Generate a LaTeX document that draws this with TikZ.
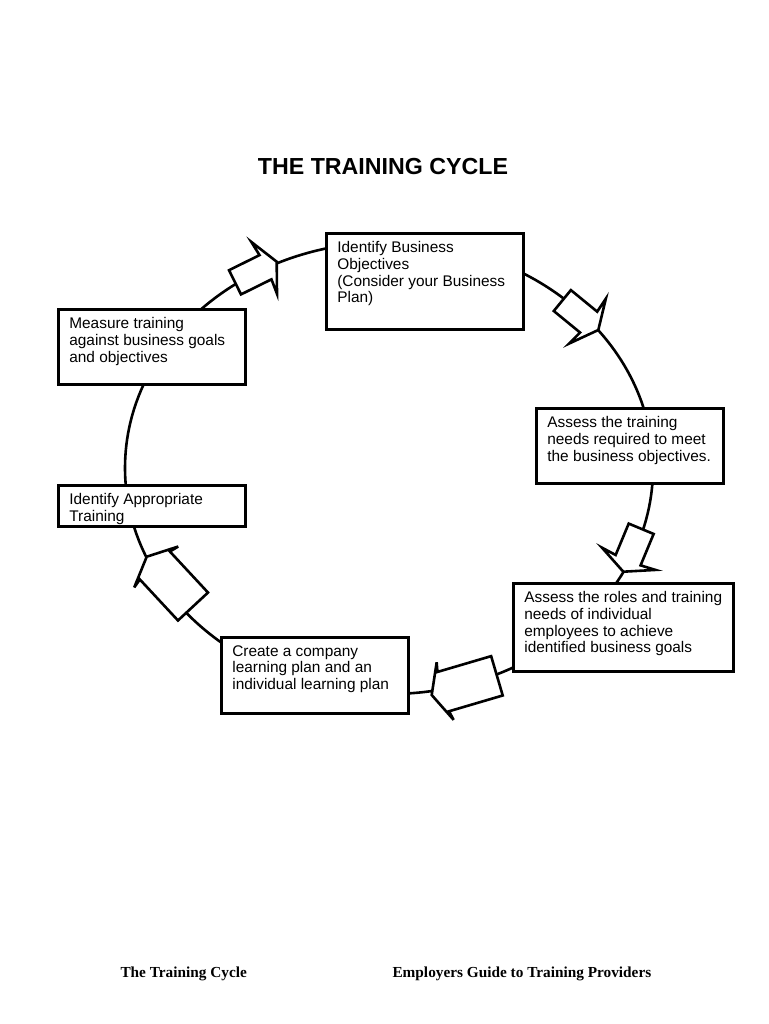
\documentclass[tikz,border=0pt]{standalone}
\usepackage{fontspec}
\setmainfont{Liberation Sans}
\newfontfamily\footfont{Liberation Serif}
\usetikzlibrary{positioning}

% text block set at the top of a fixed-size box
\newcommand{\boxtext}[3]{\parbox[t][#2pt][t]{#1pt}{\raggedright #3}}

\tikzset{
  cycleline/.style={line width=2.6pt},
  cyclebox/.style={draw,line width=2.7pt,fill=white,anchor=north west,
                   inner xsep=11pt,inner ysep=8pt,
                   font=\fontsize{15.4}{16.8}\selectfont},
  arrowshape/.style={draw,line width=2.6pt,fill=white,miter limit=8},
  pics/smallarrow/.style={code={
    \draw[arrowshape] (0,0) -- (-14,29) -- (-12.5,13.5) -- (-46.5,13.5)
      -- (-46.5,-13.5) -- (-12.5,-13.5) -- (-14,-29) -- cycle;}},
  pics/largearrow/.style={code={
    \draw[arrowshape] (0,0) -- (-14,30) -- (-12,20.5) -- (-68,20.5)
      -- (-68,-20.5) -- (-12,-20.5) -- (-14,-30) -- cycle;}}
}

\begin{document}
\begin{tikzpicture}[x=1pt,y=-1pt]
  \useasboundingbox[fill=white] (0,0) rectangle (768,1024);

  \node[anchor=base,font=\bfseries\fontsize{23.2}{27}\selectfont] (title)
    at (383,174.3) {THE TRAINING CYCLE};

  % the cycle
  \draw[cycleline] (389,468) ellipse [x radius=264pt,y radius=226pt];

  % stages
  \node[cyclebox] (objectives) at (325,232)
    {\boxtext{175}{80}{Identify Business\\Objectives\\(Consider your Business\\Plan)}};
  \node[cyclebox] (needs) at (535,407)
    {\boxtext{165}{59}{Assess the training\\needs required to meet\\the business objectives.}};
  \node[cyclebox] (roles) at (512,582)
    {\boxtext{198}{72}{Assess the roles and training\\needs of individual\\employees to achieve\\identified business goals}};
  \node[cyclebox] (plan) at (220,636)
    {\boxtext{165}{60}{Create a company\\learning plan and an\\individual learning plan}};
  \node[cyclebox] (training) at (57,484)
    {\boxtext{165}{25}{Identify Appropriate\\Training}};
  \node[cyclebox] (measure) at (57,308)
    {\boxtext{165}{59}{Measure training\\against business goals\\and objectives}};

  % direction arrows
  \pic[rotate=26.3]   at (276.7,261.7) {smallarrow};
  \pic[rotate=-39.3]  at (598.3,330)   {smallarrow};
  \pic[rotate=-112.6] at (623.3,571.7) {smallarrow};
  \pic[rotate=-163.6] at (431.7,695)   {largearrow};
  \pic[rotate=132.9]  at (146.7,556.7) {largearrow};

  % footer
  \node[anchor=base west,font=\footfont\bfseries\fontsize{15.3}{18}\selectfont]
    (footleft) at (117,977) {The Training Cycle};
  \node[anchor=base west,font=\footfont\bfseries\fontsize{15.3}{18}\selectfont]
    (footright) at (389,977) {Employers Guide to Training Providers};
\end{tikzpicture}
\end{document}
